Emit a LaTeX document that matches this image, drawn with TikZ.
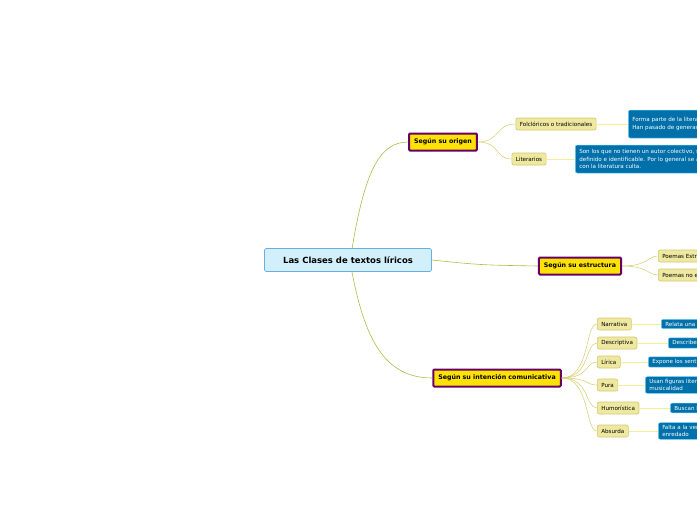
\documentclass[tikz,border=0pt]{standalone}
\usepackage{fontspec}
\setmainfont{DejaVu Sans}
\definecolor{leafc}{RGB}{0,112,170}
\definecolor{subf}{RGB}{238,232,160}
\definecolor{subd}{RGB}{210,200,110}
\definecolor{connc}{RGB}{160,195,70}
\definecolor{sconnc}{RGB}{215,205,110}
\definecolor{lconnc}{RGB}{245,240,150}
\begin{document}
\begin{tikzpicture}[x=1pt,y=-1pt,
 root/.style={draw=cyan!70!blue!60,line width=0.8pt,fill=cyan!18,rounded corners=2pt,font=\fontsize{8.5}{10}\selectfont\bfseries,minimum width=167pt,minimum height=23pt},
 main/.style={draw=violet!80!black,line width=2pt,fill=yellow!85!orange,rounded corners=1pt,font=\fontsize{6.3}{8}\selectfont\bfseries,minimum height=17pt,inner xsep=5pt},
 sub/.style={draw=subd,line width=0.6pt,fill=subf,rounded corners=2pt,font=\fontsize{5.6}{7}\selectfont,minimum height=12pt,inner xsep=4pt,inner ysep=1pt},
 leaf/.style={draw=cyan!60,line width=0.5pt,fill=leafc,text=white,rounded corners=2pt,font=\fontsize{5.6}{7.2}\selectfont,align=left,anchor=west,inner xsep=4pt,inner ysep=2.5pt},
 conn/.style={draw=connc,line width=0.6pt},
 sconn/.style={draw=sconnc,line width=0.5pt},
 lconn/.style={draw=lconnc,line width=0.6pt}]
\useasboundingbox (0,0) rectangle (697,520);
\clip (0,0) rectangle (697,520);
\node[root] (r) at (348,260) {Las Clases de textos líricos};
\node[main] (o) at (443,142) {Según su origen};
\node[main] (e) at (580,266) {Según su estructura};
\node[main] (i) at (497,378) {Según su intención comunicativa};
\draw[conn] (352,249) .. controls (365,170) and (380,142) .. (o.west);
\draw[conn] (r.east) .. controls (480,265) .. (e.west);
\draw[conn] (352,272) .. controls (365,340) and (385,378) .. (i.west);
% origen
\node[sub] (f) at (556,124) {Folclóricos o tradicionales};
\node[sub] (l) at (529,159) {Literarios};
\draw[sconn] (o.east) .. controls (500,142) and (495,124) .. (f.west);
\draw[sconn] (o.east) .. controls (500,142) and (495,159) .. (l.west);
\node[leaf,minimum height=28pt] (fb) at (628,124) {Forma parte de la literatura popular.\\Han pasado de generación en generación.};
\node[leaf,minimum height=28pt] (lb) at (575,159) {Son los que no tienen un autor colectivo, sino\\definido e identificable.  Por lo general se asocian\\con la literatura culta.};
\draw[lconn] (f.east) -- (fb.west);
\draw[lconn] (l.east) -- (lb.west);
% estructura
\node[sub,anchor=west] (p1) at (658,256) {Poemas Estróficos};
\node[sub,anchor=west] (p2) at (658,275) {Poemas no estróficos};
\draw[sconn] (e.east) .. controls (648,266) and (648,256) .. (p1.west);
\draw[sconn] (e.east) .. controls (648,266) and (648,275) .. (p2.west);
% intencion
\foreach \n/\t/\y in {n1/Narrativa/324,n2/Descriptiva/343,n3/Lírica/362,n4/Pura/385,n5/Humorística/408,n6/Absurda/431}{
 \node[sub,anchor=west] (\n) at (597,\y) {\t};
 \draw[sconn] (i.east) .. controls (590,378) and (585,\y) .. (\n.west);
}
\node[leaf] (b1) at (661,324) {Relata una historia};
\node[leaf] (b2) at (668,343) {Describe algo};
\node[leaf] (b3) at (648,362) {Expone los sentimientos};
\node[leaf] (b4) at (645,385) {Usan figuras literarias y\\musicalidad};
\node[leaf] (b5) at (670,408) {Buscan hacer reír};
\node[leaf] (b6) at (658,431) {Falta a la verdad, es\\ enredado};
\foreach \a/\b in {n1/b1,n2/b2,n3/b3,n4/b4,n5/b5,n6/b6}{\draw[lconn] (\a.east) -- (\b.west);}
\end{tikzpicture}
\end{document}
